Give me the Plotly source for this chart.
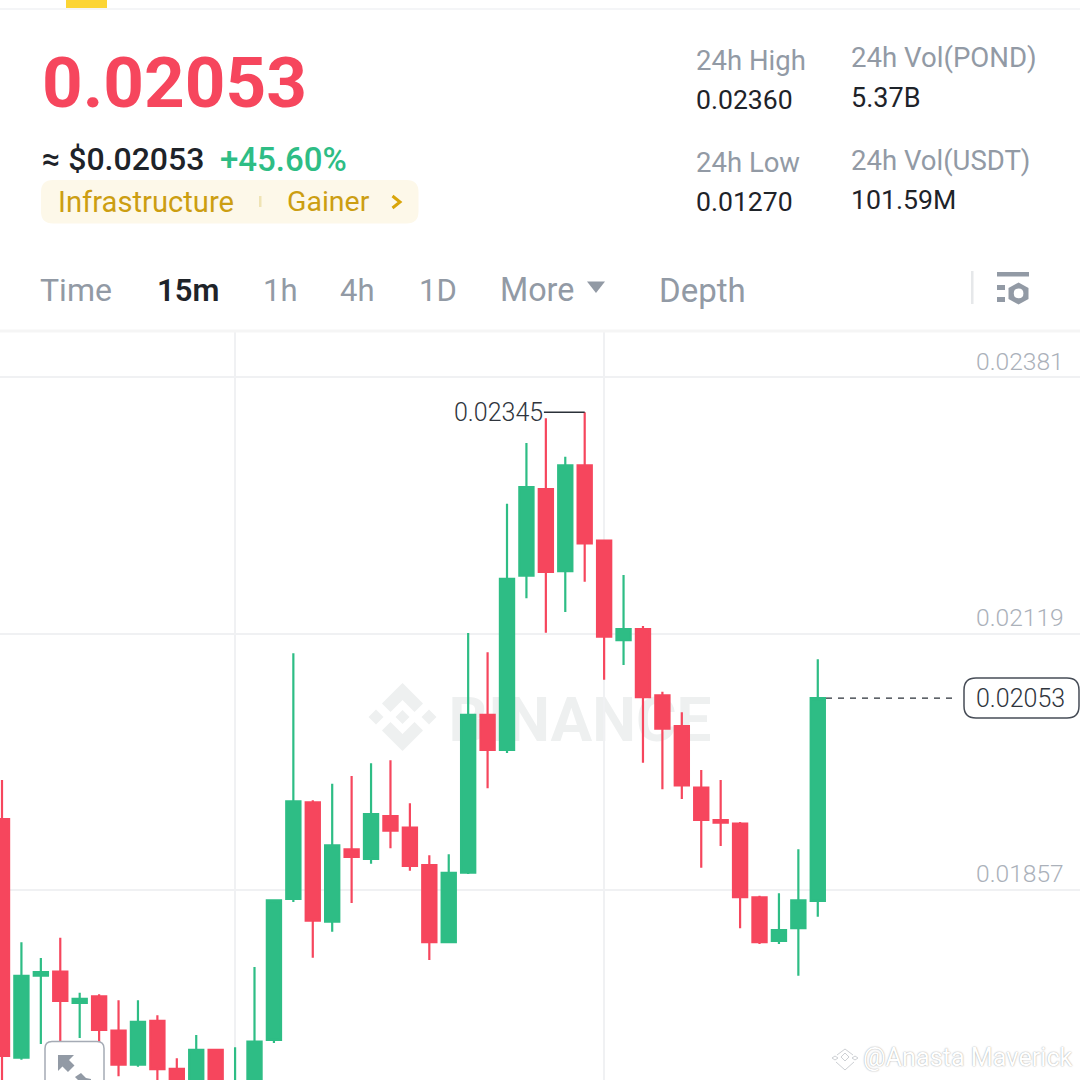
import plotly.graph_objects as go

# ---------- data ----------
candle_index = list(range(43))
opens = [.019295,.016857,.017695,.017736,.017416,.017484,.017133,.016786,.017232,.016742,
         .016425,.016936,.016323,.016323,.017038,.018478,.019466,.018246,.018986,.018887,
         .019326,.019206,.018825,.018036,.018747,.020358,.020000,.021780,.022666,.021828,
         .022908,.022138,.021121,.021236,.020559,.020245,.019615,.019285,.019247,.018495,
         .018049,.018179,.018458]
closes = [.016874,.017692,.017732,.017436,.017457,.017140,.016786,.017222,.016739,.016476,
          .016936,.016425,.016578,.017020,.018465,.019476,.018256,.019027,.018907,.019346,
          .019176,.018815,.018036,.018744,.020358,.020000,.021747,.022686,.021818,.022908,
          .022111,.021157,.021236,.020541,.020218,.019639,.019285,.019257,.018498,.018036,
          .018161,.018465,.020530]
highs = [.019694,.018036,.017875,.018083,.017521,.017505,.017443,.017443,.017290,.016851,
         .017089,.016943,.016963,.017783,.018465,.020988,.019486,.019656,.019734,.019864,
         .019895,.019456,.018924,.018935,.021195,.020998,.022516,.023136,.023388,.022996,
         .023450,.022138,.021788,.021267,.020596,.020385,.019796,.019694,.019265,.018512,
         .018536,.018986,.020926]
lows = [.016527,.016837,.016997,.016936,.017058,.016987,.016667,.016765,.016578,.016425,
        .016323,.016374,.016272,.016221,.017007,.018447,.017878,.018144,.018437,.018839,
        .018996,.018767,.017855,.018036,.018733,.019609,.019969,.021550,.021198,.021410,
        .021719,.020718,.020868,.019870,.019599,.019500,.018798,.019019,.018179,.018018,
        .018018,.017695,.018297]
price_ticks = [0.02381, 0.02119, 0.01857]
price_tick_labels = ["0.02381", "0.02119", "0.01857"]
time_gridlines = [12, 31]
last_price = 0.02053
peak_price = 0.02345
peak_index = 30

# ---------- style ----------
W = H = 1080
RED, GREEN = "#F6465D", "#2EBD85"
DARK, GRAY, PALE, GOLD = "#1E2329", "#929AA5", "#ABB1BA", "#CC9E12"
GRID = "#F0F1F3"
BODY = "Roboto"


def X(x):
    return x / W


def Y(y):
    return 1 - y / H


def poly(points, close=True):
    s = "M " + " L ".join(f"{X(a):.5f} {Y(b):.5f}" for a, b in points)
    return s + (" Z" if close else "")


def rrect(x0, y0, x1, y1, r):
    p = lambda a, b: f"{X(a):.5f} {Y(b):.5f}"
    return (f"M {p(x0 + r, y0)} L {p(x1 - r, y0)} Q {p(x1, y0)} {p(x1, y0 + r)} "
            f"L {p(x1, y1 - r)} Q {p(x1, y1)} {p(x1 - r, y1)} L {p(x0 + r, y1)} "
            f"Q {p(x0, y1)} {p(x0, y1 - r)} L {p(x0, y0 + r)} Q {p(x0, y0)} {p(x0 + r, y0)} Z")


shapes = []


def fill(path, color, layer="above"):
    shapes.append(dict(type="path", xref="paper", yref="paper", path=path, fillcolor=color,
                       line=dict(width=0), layer=layer))


def stroke(path, color, width, layer="above"):
    shapes.append(dict(type="path", xref="paper", yref="paper", path=path,
                       line=dict(color=color, width=width), layer=layer))


annotations = []


def txt(x, y, text, size, color, weight=400, anchor="left", font=BODY, **kw):
    annotations.append(dict(xref="paper", yref="paper", x=X(x), y=Y(y), text=text, showarrow=False,
                            xanchor=anchor, yanchor="middle", borderpad=0, borderwidth=0,
                            font=dict(family=font, size=size, color=color, weight=weight, **kw)))


# top strip
fill(rrect(66, -6, 107, 8, 0.1), "#FCD535")
stroke(poly([(0, 9), (1080, 9)], False), "#EAECEF", 1.2)
stroke(poly([(0, 331), (1080, 331)], False), "#F5F5F5", 3)

# header text
txt(42, 83, "0.02053", 71, RED, 700)
txt(42, 159, "≈ $0.02053", 32, DARK, 500)
txt(220, 159, "+45.60%", 33, GREEN, 500)
fill(rrect(41, 180, 418.5, 223.5, 12), "#FDF8E9", "below")
txt(58, 202, "Infrastructure", 29.2, GOLD)
fill(rrect(259, 196, 261.5, 207, 0.1), "#EFE3B4")
txt(287, 202, "Gainer", 28.5, GOLD)
stroke(poly([(392.5, 196), (400, 202), (392.5, 208)], False), "#D9A50A", 3)

# stats
for x, y, s, c, fs in [(696, 60, "24h High", GRAY, 27.5), (696, 100, "0.02360", DARK, 26.6),
                       (851, 58, "24h Vol(POND)", GRAY, 27.6), (851, 98, "5.37B", DARK, 27),
                       (696, 162, "24h Low", GRAY, 27.5), (696, 202, "0.01270", DARK, 26.6),
                       (851, 160, "24h Vol(USDT)", GRAY, 27.5), (851, 200, "101.59M", DARK, 26.7)]:
    txt(x, y, s, fs, c)

# tabs
for x, s, fs in [(40, "Time", 32), (263, "1h", 31), (340, "4h", 31), (419, "1D", 31),
                 (500, "More", 32.3), (659, "Depth", 33)]:
    txt(x, 290, s, fs, GRAY)
txt(157, 290, "15m", 31, DARK, 600)
fill(poly([(587, 281.5), (605, 281.5), (596, 293)]), GRAY)
fill(rrect(971, 271, 973.5, 304, 0.1), "#E6E8EA")
fill(rrect(997, 272, 1029, 276.5, 0.1), GRAY)
fill(rrect(997, 285, 1005, 290, 0.1), GRAY)
fill(rrect(997, 297, 1005, 302, 0.1), GRAY)
fill(poly([(1018.5, 282.5), (1028.5, 288), (1028.5, 299), (1018.5, 304.5), (1008.5, 299), (1008.5, 288)]), GRAY)
fill(rrect(1013.8, 288.6, 1023.4, 298.2, 4.7), "#FFFFFF")

# Binance watermark (under the candles)
WM = "#EEF0F0"
fill(poly([(402.5, 683), (423, 703.5), (414.5, 712), (402.5, 700), (390.5, 712), (382, 703.5)]), WM, "below")
fill(poly([(402.5, 751), (423, 730.5), (414.5, 722), (402.5, 734), (390.5, 722), (382, 730.5)]), WM, "below")
fill(poly([(402.5, 710), (409.5, 717), (402.5, 724), (395.5, 717)]), WM, "below")
fill(poly([(376, 709.5), (383.5, 717), (376, 724.5), (368.5, 717)]), WM, "below")
fill(poly([(429, 709.5), (436.5, 717), (429, 724.5), (421.5, 717)]), WM, "below")
shapes.append(dict(type="rect", xref="paper", yref="paper", x0=X(440), x1=X(720), y0=Y(743), y1=Y(687),
                   line=dict(width=0), fillcolor="rgba(0,0,0,0)", layer="below",
                   label=dict(text="BINANCE", textposition="middle center",
                              font=dict(family=BODY, size=62, color=WM, weight=700))))

# expand button
fill(rrect(45, 1041.5, 104, 1100, 7), "#FFFFFF")
stroke(rrect(45, 1041.5, 104, 1100, 7), "#A5ABB5", 1.5)
fill(poly([(58, 1055), (74, 1055), (69, 1060), (74.5, 1065.5), (68, 1072), (62.5, 1066.5), (58, 1071)]), GRAY)
fill(poly([(91, 1079), (91, 1090), (75, 1090), (80, 1082), (75, 1077), (81, 1073), (86, 1078)]), GRAY)

# price labels
for v, s in zip(price_ticks, price_tick_labels):
    annotations.append(dict(xref="paper", yref="y", x=X(1066), y=v, yshift=16, text=s, showarrow=False,
                            xanchor="right", yanchor="middle",
                            font=dict(family=BODY, size=24.6, color=PALE, weight=300)))

# peak marker
annotations.append(dict(xref="x", yref="y", x=peak_index, y=peak_price, xshift=-40, text=f"{peak_price:.5f}",
                        showarrow=False, xanchor="right", yanchor="middle",
                        font=dict(family=BODY, size=25, color="#2F353D", weight=300)))
shapes.append(dict(type="line", xref="x", yref="y", x0=peak_index - 2.1, x1=peak_index, y0=peak_price, y1=peak_price,
                   line=dict(color="#2B3139", width=1.3), layer="above"))

# last price marker
shapes.append(dict(type="line", xref="paper", yref="y", x0=X(826), x1=X(955), y0=last_price, y1=last_price,
                   line=dict(color="#2B3139", width=1.4, dash="6px,6px"), layer="above"))
stroke(rrect(964, 678, 1079, 718, 12), "#474D57", 1.5)
annotations.append(dict(xref="paper", yref="y", x=X(1066.5), y=last_price, text=f"{last_price:.5f}", showarrow=False,
                        xanchor="right", yanchor="middle", font=dict(family=BODY, size=25, color="#2F353D", weight=300)))

# author watermark
MARK = "#CDD0D4"
stroke(poly([(837, 1055), (845, 1049), (853, 1055)], False), MARK, 1)
stroke(poly([(845, 1053), (849, 1057), (845, 1061), (841, 1057)]), MARK, 1)
stroke(poly([(832, 1058), (835, 1056), (838, 1058), (835, 1060)]), MARK, 1)
stroke(poly([(852, 1058), (855, 1056), (858, 1058), (855, 1060)]), MARK, 1)
stroke(poly([(836, 1062), (845, 1070), (854, 1062)], False), MARK, 1)
txt(863, 1057, "@Anasta Maverick", 25.2, "#FFFFFF", 400, shadow="0px 0px 1.5px #8F8F8F")

fig = go.Figure(go.Candlestick(
    x=candle_index, open=opens, high=highs, low=lows, close=closes,
    increasing=dict(line=dict(color=GREEN, width=2.2), fillcolor=GREEN),
    decreasing=dict(line=dict(color=RED, width=2.2), fillcolor=RED),
    hoverinfo="skip", showlegend=False))

fig.update_layout(
    width=W, height=H, margin=dict(l=0, r=0, t=0, b=0), autosize=False,
    paper_bgcolor="#FFFFFF", plot_bgcolor="#FFFFFF", showlegend=False,
    boxgap=0.27, boxgroupgap=0,
    shapes=shapes, annotations=annotations,
    xaxis=dict(domain=[0, 1], range=[-0.103, 55.5], tickvals=time_gridlines, showticklabels=False,
               ticks="", showgrid=True, gridcolor=GRID, gridwidth=1.5, zeroline=False, showline=False,
               rangeslider=dict(visible=False), fixedrange=True),
    yaxis=dict(domain=[0, 749 / 1080], range=[0.016629, 0.02428], tickvals=price_ticks, showticklabels=False,
               ticks="", showgrid=True, gridcolor=GRID, gridwidth=1.5, zeroline=False, showline=False, fixedrange=True),
)
fig.write_html("out.html", config=dict(displayModeBar=False),
               post_script="document.body.style.margin='0';document.body.style.overflow='hidden';")
